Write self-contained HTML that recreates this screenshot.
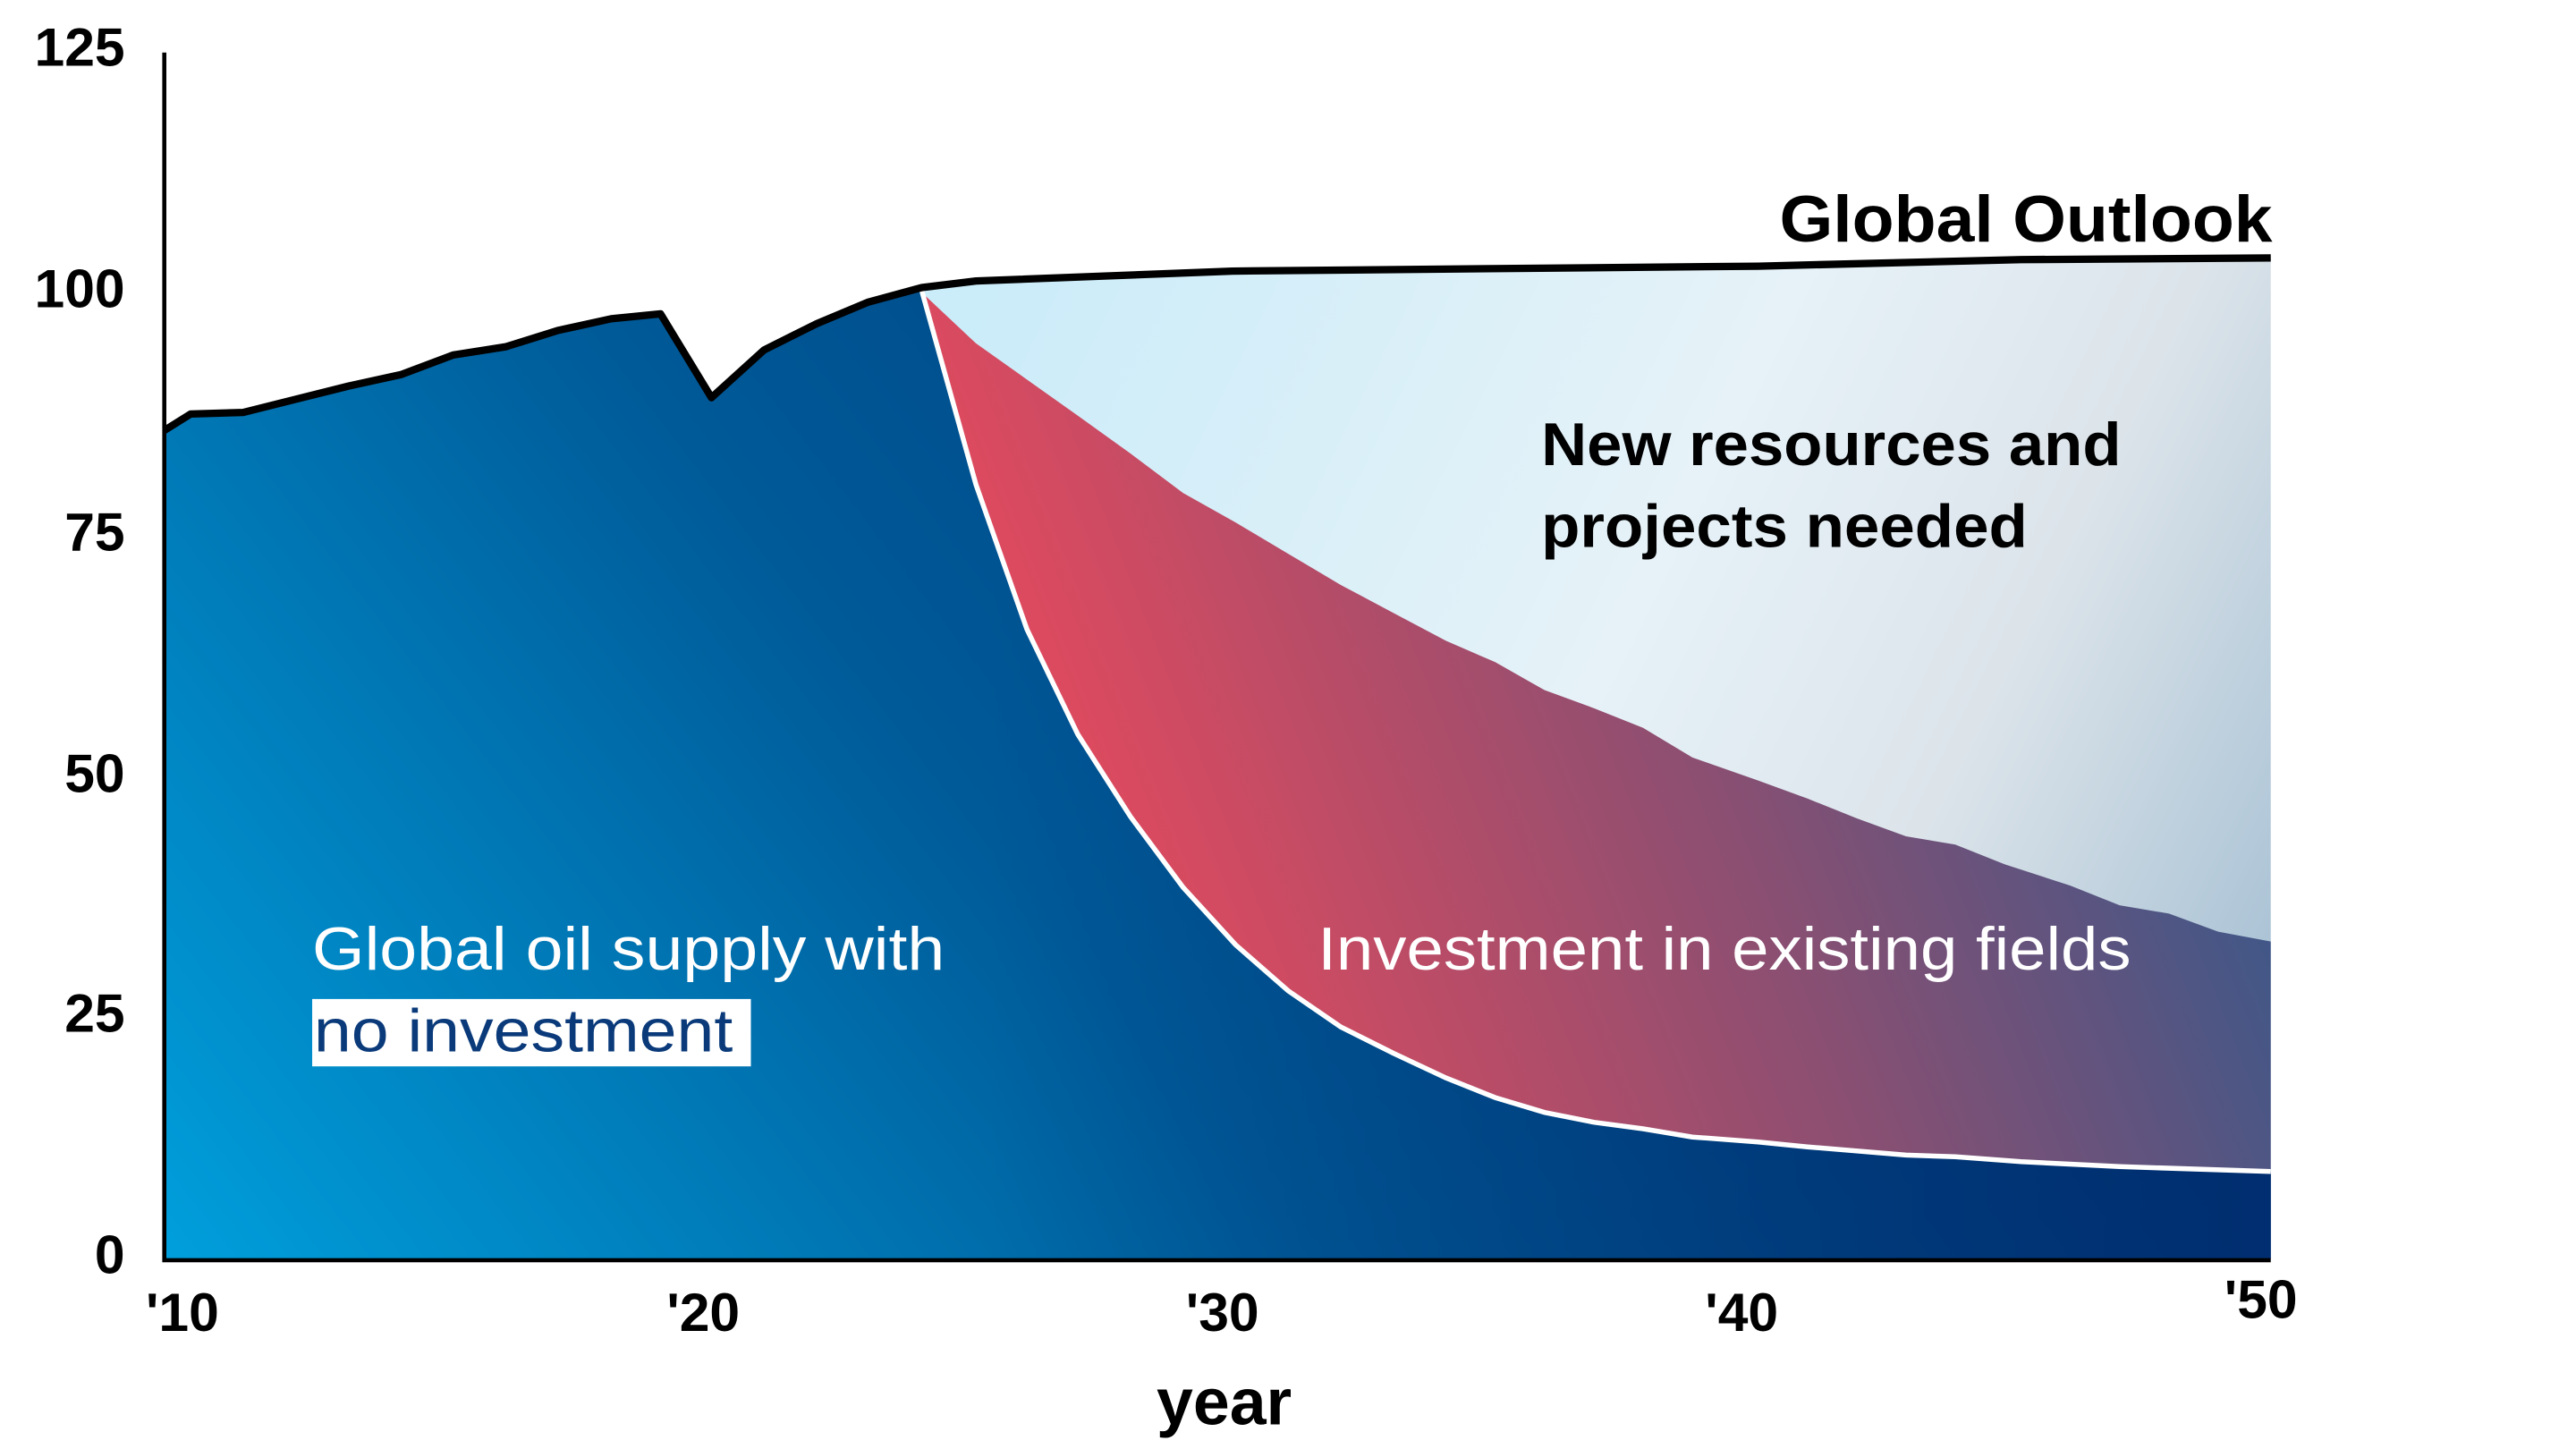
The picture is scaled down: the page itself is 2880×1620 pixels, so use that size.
<!DOCTYPE html>
<html><head><meta charset="utf-8"><style>
html,body{margin:0;padding:0;background:#fff;width:2880px;height:1620px;overflow:hidden}
svg{display:block}
text{font-family:"Liberation Sans","DejaVu Sans",sans-serif}
</style></head><body>
<svg width="2880" height="1620" viewBox="0 0 2880 1620">
<defs>
<linearGradient id="gb" gradientUnits="userSpaceOnUse" x1="100" y1="766" x2="900" y2="150">
<stop offset="0" stop-color="#009fdc"/><stop offset="0.55" stop-color="#005a98"/><stop offset="1" stop-color="#003f7e"/></linearGradient>
<linearGradient id="gb2" gradientUnits="userSpaceOnUse" x1="600" y1="766" x2="1382" y2="766">
<stop offset="0" stop-color="#00276a" stop-opacity="0"/><stop offset="1" stop-color="#00276a" stop-opacity="0.7"/></linearGradient>
<linearGradient id="gr" gradientUnits="userSpaceOnUse" x1="700" y1="600" x2="1382" y2="330">
<stop offset="0" stop-color="#e04a5e"/><stop offset="0.5" stop-color="#8a4f72"/><stop offset="1" stop-color="#2a5a8e"/></linearGradient>
<linearGradient id="gl" gradientUnits="userSpaceOnUse" x1="600" y1="180" x2="1382" y2="570">
<stop offset="0" stop-color="#cbecf9"/><stop offset="0.5" stop-color="#e6f2f8"/><stop offset="0.75" stop-color="#dce4ea"/><stop offset="1" stop-color="#acc4d6"/></linearGradient>
</defs>
<g transform="scale(1.837)">
<path fill="url(#gl)" d="M561,175 L594,171 L750,165 L1070,162 L1230,158 L1382,157 L1382,766 L561,766Z"/>
<path fill="url(#gr)" d="M561,178 L594,209 L625,231 L656,253 L688,276 L720,300 L752,318 L784,337 L816,356 L848,373 L880,390 L910,403 L940,420 L970,431 L1000,443 L1030,461 L1070,475 L1100,486 L1130,498 L1160,509 L1190,514 L1220,526 L1260,539 L1290,551 L1320,556 L1350,567 L1382,573 L1382,766 L561,766Z"/>
<path fill="url(#gb)" d="M100,262 L116,252 L148,251 L180,243 L212,235 L244,228 L276,216 L308,211 L340,201 L372,194 L402,191 L433,242 L465,213 L497,197 L528,184 L561,177 L594,295 L625,383 L656,447 L688,497 L720,540 L752,575 L784,603 L816,625 L848,641 L880,656 L910,668 L940,677 L970,683 L1000,687 L1030,692 L1070,695 L1100,698 L1160,703 L1190,704 L1230,707 L1290,710 L1382,713 L1382,766 L100,766Z"/>
<path fill="url(#gb2)" d="M100,262 L116,252 L148,251 L180,243 L212,235 L244,228 L276,216 L308,211 L340,201 L372,194 L402,191 L433,242 L465,213 L497,197 L528,184 L561,177 L594,295 L625,383 L656,447 L688,497 L720,540 L752,575 L784,603 L816,625 L848,641 L880,656 L910,668 L940,677 L970,683 L1000,687 L1030,692 L1070,695 L1100,698 L1160,703 L1190,704 L1230,707 L1290,710 L1382,713 L1382,766 L100,766Z"/>
<path fill="none" stroke="#fff" stroke-width="3" d="M561,177 L594,295 L625,383 L656,447 L688,497 L720,540 L752,575 L784,603 L816,625 L848,641 L880,656 L910,668 L940,677 L970,683 L1000,687 L1030,692 L1070,695 L1100,698 L1160,703 L1190,704 L1230,707 L1290,710 L1382,713"/>
<path fill="none" stroke="#000" stroke-width="4.5" stroke-linejoin="round" d="M100,262 L116,252 L148,251 L180,243 L212,235 L244,228 L276,216 L308,211 L340,201 L372,194 L402,191 L433,242 L465,213 L497,197 L528,184 L561,175 L594,171 L750,165 L1070,162 L1230,158 L1382,157"/>
<path fill="none" stroke="#000" stroke-width="2.5" d="M100,32 L100,767 L1382,767"/>
<g font-weight="bold" font-size="33" text-anchor="end" fill="#000">
<text x="76" y="40">125</text><text x="76" y="187">100</text><text x="76" y="335">75</text><text x="76" y="482">50</text><text x="76" y="628">25</text><text x="76" y="775">0</text>
</g>
<g font-weight="bold" font-size="33" text-anchor="middle" fill="#000">
<text x="111" y="810">'10</text><text x="428" y="810">'20</text><text x="744" y="810">'30</text><text x="1060" y="810">'40</text><text x="1376" y="802">'50</text>
<text x="745" y="867" font-size="40">year</text>
</g>
<text x="1083" y="147" font-weight="bold" font-size="40" fill="#000" textLength="300" lengthAdjust="spacingAndGlyphs">Global Outlook</text>
<text x="938" y="283" font-weight="bold" font-size="37" fill="#000" textLength="353" lengthAdjust="spacingAndGlyphs">New resources and</text>
<text x="938" y="333" font-weight="bold" font-size="37" fill="#000" textLength="296" lengthAdjust="spacingAndGlyphs">projects needed</text>
<text x="190" y="590" font-size="37" fill="#fff" textLength="385" lengthAdjust="spacingAndGlyphs">Global oil supply with</text>
<rect x="190" y="608" width="267" height="41" fill="#fff"/>
<text x="191" y="640" font-size="37" fill="#0a3a7a" textLength="255" lengthAdjust="spacingAndGlyphs">no investment</text>
<text x="802" y="590" font-size="37" fill="#fff" textLength="495" lengthAdjust="spacingAndGlyphs">Investment in existing fields</text>
</g>
</svg>
</body></html>
